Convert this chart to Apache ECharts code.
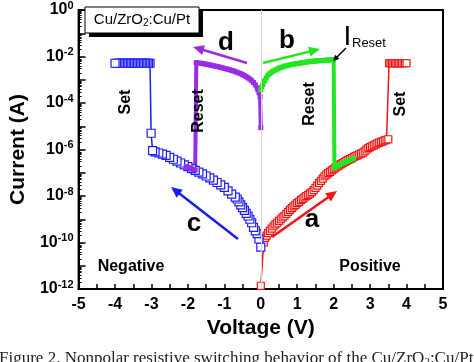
<!DOCTYPE html>
<html><head><meta charset="utf-8">
<script src="https://cdn.jsdelivr.net/npm/echarts@6/dist/echarts.min.js"></script>
<style>html,body{margin:0;padding:0;background:#fff}#c{width:474px;height:362px}</style>
</head><body><div id="c"></div>
<script>
// Tick values
const xTicks = [-5,-4,-3,-2,-1,0,1,2,3,4,5];
const yLabelExponents = [0,-2,-4,-6,-8,-10,-12];
// Sweeps: [voltage (V), log10(current / A)]
// a: positive sweep, HRS -> set (red, open squares)
const sweepA = [[0,-11.86],[0.08,-10.0],[0.12,-9.8],[0.16,-9.7],[0.2,-9.6],[0.25,-9.5],[0.3,-9.4],[0.35,-9.3],[0.4,-9.22],[0.45,-9.15],[0.5,-9.07],[0.55,-9.0],[0.6,-8.92],[0.65,-8.85],[0.7,-8.77],[0.75,-8.68],[0.8,-8.6],[0.85,-8.52],[0.9,-8.45],[0.95,-8.38],[1.0,-8.31],[1.05,-8.25],[1.1,-8.18],[1.15,-8.12],[1.2,-8.06],[1.25,-8.0],[1.3,-7.95],[1.35,-7.9],[1.4,-7.83],[1.45,-7.75],[1.5,-7.65],[1.55,-7.55],[1.6,-7.45],[1.65,-7.35],[1.7,-7.25],[1.75,-7.15],[1.8,-7.08],[1.85,-7.02],[1.9,-6.96],[1.95,-6.9],[2.0,-6.84],[2.05,-6.78],[2.1,-6.73],[2.15,-6.68],[2.2,-6.63],[2.25,-6.58],[2.3,-6.53],[2.35,-6.49],[2.4,-6.45],[2.45,-6.41],[2.5,-6.37],[2.55,-6.33],[2.6,-6.28],[2.65,-6.25],[2.7,-6.21],[2.75,-6.18],[2.8,-6.14],[2.85,-6.08],[2.9,-6.0],[2.95,-5.94],[3.0,-5.9],[3.05,-5.86],[3.1,-5.82],[3.15,-5.78],[3.2,-5.74],[3.25,-5.7],[3.3,-5.67],[3.35,-5.65],[3.4,-5.61],[3.45,-5.58],[3.5,-5.56],[3.52,-2.29],[3.56,-2.29],[3.6,-2.29],[3.64,-2.29],[3.68,-2.29],[3.72,-2.29],[3.76,-2.29],[3.8,-2.29],[3.84,-2.29],[3.88,-2.29],[3.92,-2.29],[3.96,-2.29],[4.0,-2.29]];
// c: negative sweep, HRS -> set (blue, open squares)
const sweepC = [[0,-10.2],[-0.05,-9.85],[-0.1,-9.62],[-0.15,-9.5],[-0.2,-9.35],[-0.25,-9.15],[-0.3,-9.0],[-0.35,-8.86],[-0.4,-8.75],[-0.45,-8.62],[-0.5,-8.5],[-0.55,-8.38],[-0.6,-8.25],[-0.65,-8.13],[-0.7,-8.05],[-0.8,-7.92],[-0.9,-7.78],[-1.0,-7.63],[-1.1,-7.52],[-1.2,-7.42],[-1.3,-7.32],[-1.4,-7.22],[-1.5,-7.14],[-1.6,-7.05],[-1.7,-6.97],[-1.8,-6.9],[-1.9,-6.82],[-2.0,-6.74],[-2.1,-6.66],[-2.2,-6.58],[-2.3,-6.5],[-2.4,-6.42],[-2.5,-6.34],[-2.6,-6.25],[-2.7,-6.2],[-2.8,-6.15],[-2.9,-6.1],[-2.97,-6.05],[-3.01,-5.3],[-3.04,-2.29],[-3.08,-2.29],[-3.12,-2.29],[-3.16,-2.29],[-3.2,-2.29],[-3.24,-2.29],[-3.28,-2.29],[-3.32,-2.29],[-3.36,-2.29],[-3.4,-2.29],[-3.44,-2.29],[-3.48,-2.29],[-3.52,-2.29],[-3.56,-2.29],[-3.6,-2.29],[-3.64,-2.29],[-3.68,-2.29],[-3.72,-2.29],[-3.76,-2.29],[-3.8,-2.29],[-3.84,-2.29],[-3.88,-2.29],[-3.92,-2.29],[-3.96,-2.29],[-4.0,-2.29]];
// d: negative sweep, LRS -> reset (purple, filled squares)
const sweepD = [[0,-5.06],[-0.02,-3.73],[-0.05,-3.55],[-0.08,-3.42],[-0.1,-3.35],[-0.15,-3.22],[-0.2,-3.12],[-0.25,-3.04],[-0.3,-2.97],[-0.35,-2.92],[-0.4,-2.87],[-0.45,-2.82],[-0.5,-2.78],[-0.55,-2.74],[-0.6,-2.71],[-0.65,-2.68],[-0.7,-2.65],[-0.75,-2.62],[-0.8,-2.6],[-0.85,-2.57],[-0.9,-2.55],[-0.95,-2.53],[-1.0,-2.51],[-1.05,-2.49],[-1.1,-2.47],[-1.15,-2.45],[-1.2,-2.43],[-1.25,-2.41],[-1.3,-2.4],[-1.35,-2.38],[-1.4,-2.36],[-1.45,-2.35],[-1.5,-2.33],[-1.55,-2.32],[-1.6,-2.3],[-1.65,-2.29],[-1.7,-2.28],[-1.77,-2.26],[-1.8,-6.88],[-1.85,-6.86],[-1.9,-6.83],[-1.95,-6.8],[-2.0,-6.77],[-2.05,-6.74]];
// b: positive sweep, LRS -> reset (green, filled squares)
const sweepB = [[0,-3.44],[0.03,-3.3],[0.06,-3.2],[0.1,-3.05],[0.15,-2.92],[0.2,-2.8],[0.25,-2.73],[0.3,-2.67],[0.35,-2.62],[0.4,-2.58],[0.45,-2.54],[0.5,-2.5],[0.55,-2.47],[0.6,-2.45],[0.65,-2.42],[0.7,-2.4],[0.75,-2.38],[0.8,-2.36],[0.85,-2.34],[0.9,-2.33],[0.95,-2.31],[1.0,-2.3],[1.05,-2.29],[1.1,-2.28],[1.15,-2.26],[1.2,-2.25],[1.25,-2.24],[1.3,-2.23],[1.35,-2.22],[1.4,-2.21],[1.45,-2.2],[1.5,-2.2],[1.55,-2.19],[1.6,-2.18],[1.65,-2.18],[1.7,-2.17],[1.75,-2.16],[1.8,-2.16],[1.85,-2.15],[1.9,-2.15],[1.95,-2.14],[2.0,-2.13],[2.02,-6.78],[2.06,-6.74],[2.1,-6.71],[2.15,-6.67],[2.2,-6.63],[2.25,-6.59],[2.3,-6.56],[2.35,-6.52],[2.4,-6.49],[2.45,-6.45],[2.5,-6.42],[2.55,-6.38]];

const toCurrent = arr => arr.map(p => [p[0], Math.pow(10, p[1])]);
const decades = []; for (let e = 0; e >= -12; e--) decades.push(Math.pow(10, e));
const minorVals = []; for (let e = -12; e < 0; e++) for (let k = 2; k <= 9; k++) minorVals.push(k * Math.pow(10, e));
const labelVals = yLabelExponents.map(e => Math.pow(10, e));

const FONT = 'Arial, "Liberation Sans", sans-serif';
const RED = '#f01414', BLUE = '#1c1cf5', PURPLE = '#9a2be6', GREEN = '#22e622';

function arrow(x1,y1,x2,y2,color,w,hl,hw){
  const a = Math.atan2(y2-y1, x2-x1);
  const bx = x2 - hl*Math.cos(a), by = y2 - hl*Math.sin(a);
  const px = -Math.sin(a)*hw, py = Math.cos(a)*hw;
  return [
    {type:'line', silent:true, z:100, shape:{x1:x1,y1:y1,x2:bx+Math.cos(a)*2,y2:by+Math.sin(a)*2}, style:{stroke:color,lineWidth:w}},
    {type:'polygon', silent:true, z:100, shape:{points:[[x2,y2],[bx+px,by+py],[bx-px,by-py]]}, style:{fill:color}}
  ];
}
function txt(x,y,t,size,weight,rot){
  return {type:'text', silent:true, z:100, x:x, y:y, rotation:rot||0,
    style:{text:t, fontSize:size, fontWeight:weight, fontFamily:FONT, fill:'#000', align:'center', verticalAlign:'middle', textAlign:'center', textVerticalAlign:'middle'}};
}

const graphics = [].concat(
  [{type:'rect', silent:true, z:100, shape:{x:89,y:11,width:114,height:26}, style:{fill:'#000'}},
   {type:'rect', silent:true, z:101, shape:{x:85,y:7,width:114,height:26}, style:{fill:'#fff', stroke:'#000', lineWidth:1}},
   {type:'text', silent:true, z:102, x:142, y:20, style:{text:'{n|Cu/ZrO}{s|2}{n|:Cu/Pt}', align:'center', verticalAlign:'middle', textAlign:'center', textVerticalAlign:'middle',
     rich:{n:{fontSize:15, fontFamily:FONT, fill:'#000', fontWeight:'normal'}, s:{fontSize:10, fontFamily:FONT, fill:'#000', padding:[7,0,0,0]}}}}],
  arrow(247,63,193,47,PURPLE,2.5,11,5),
  arrow(263,63,320,49,GREEN,2.5,11,5),
  arrow(238,239,171,187,BLUE,2.5,11,5),
  arrow(272,237,337,191,RED,2.5,11,5),
  arrow(346,48,333,61,'#000',1.5,6,3),
  [txt(226,43,'d',26,'bold'), txt(287,41,'b',26,'bold'), txt(194,224,'c',26,'bold'), txt(312,220,'a',26,'bold'),
   txt(126,102,'Set',16,'bold',Math.PI/2), txt(198.5,111,'Reset',16,'bold',Math.PI/2),
   txt(310,104,'Reset',16,'bold',Math.PI/2), txt(400.5,104,'Set',16,'bold',Math.PI/2),
   txt(131,267,'Negative',16,'bold'), txt(370,267,'Positive',16,'bold'),
   txt(347.5,37,'I',28,'normal'),
   {type:'text', silent:true, z:100, x:352, y:43, style:{text:'Reset', fontSize:13, fontWeight:'normal', fontFamily:FONT, fill:'#000', align:'left', verticalAlign:'middle', textAlign:'left', textVerticalAlign:'middle'}},
   {type:'text', silent:true, z:100, x:-1, y:349, style:{text:'{n|Figure 2. Nonpolar resistive switching behavior of the Cu/ZrO}{s|2}{n|:Cu/Pt}', align:'left', verticalAlign:'top', textAlign:'left', textVerticalAlign:'top',
     rich:{n:{fontSize:17, fontFamily:'"Liberation Serif", "DejaVu Serif", serif', fill:'#222'}, s:{fontSize:11, fontFamily:'"Liberation Serif", serif', fill:'#222', padding:[8,0,0,0]}}}}]
);

const chart = echarts.init(document.getElementById('c'), null, {renderer:'canvas'});
function lineSeries(data, color, size, open, lw){
  return {type:'line', data:toCurrent(data), yAxisIndex:0, symbol:'rect', symbolSize:size, showSymbol:true,
    lineStyle:{color:color, width:lw}, itemStyle: open ? {color:'#fff', borderColor:color, borderWidth:1.2} : {color:color, borderColor:color, borderWidth:0},
    emphasis:{disabled:true}, animation:false, clip:false};
}
const sA = lineSeries(sweepA, RED, 7, true, 1.5);
sA.markLine = {silent:true, symbol:'none', label:{show:false}, lineStyle:{color:'#d6d6d6', width:1, type:'solid'}, data:[{xAxis:0}], animation:false};
sA.z = 1;
chart.setOption({
  animation:false,
  backgroundColor:'#fff',
  grid:{left:67, right:31, top:10, bottom:73, show:true, borderColor:'#000', borderWidth:2, backgroundColor:'transparent'},
  xAxis:{type:'value', min:-5, max:5, interval:1,
    name:'Voltage (V)', nameLocation:'middle', nameGap:21, nameTextStyle:{fontSize:21, fontWeight:'bold', fontFamily:FONT, color:'#000', verticalAlign:'top'},
    axisLine:{show:true, onZero:false, lineStyle:{color:'#000', width:2}},
    axisTick:{show:true, inside:true, length:5, lineStyle:{color:'#000', width:1.5}, customValues:xTicks},
    minorTick:{show:true, splitNumber:2, length:5, lineStyle:{color:'#000', width:1.5}},
    axisLabel:{show:true, margin:8, fontSize:16, fontWeight:'bold', fontFamily:FONT, color:'#000', customValues:xTicks, formatter:v=>String(v)},
    splitLine:{show:false}, minorSplitLine:{show:false}},
  yAxis:[
    {type:'log', logBase:10, min:1e-12, max:1, position:'left',
     name:'Current (A)', nameLocation:'middle', nameGap:35, nameRotate:90, nameTextStyle:{fontSize:21, fontWeight:'bold', fontFamily:FONT, color:'#000'},
     axisLine:{show:true, onZero:false, lineStyle:{color:'#000', width:2}},
     axisTick:{show:true, inside:true, length:7, lineStyle:{color:'#000', width:1.5}, customValues:decades},
     axisLabel:{show:true, margin:5, customValues:labelVals, formatter:function(v){const e=Math.round(Math.log10(v)); return '{b|10}{s|'+e+'}';},
       rich:{b:{fontSize:16, fontWeight:'bold', fontFamily:FONT, color:'#000'}, s:{fontSize:11, fontWeight:'bold', fontFamily:FONT, color:'#000', padding:[0,0,9,0]}}},
     splitLine:{show:false}},
    {type:'log', logBase:10, min:1e-12, max:1, position:'left',
     axisLine:{show:false, onZero:false}, axisLabel:{show:false}, splitLine:{show:false},
     axisTick:{show:true, inside:true, length:3, lineStyle:{color:'#000', width:1}, customValues:minorVals}}
  ],
  series:[
    sA,
    lineSeries(sweepC, BLUE, 8, true, 1.5),
    lineSeries(sweepD, PURPLE, 5, false, 4),
    lineSeries(sweepB, GREEN, 5, false, 4)
  ],
  graphic:graphics
});
</script></body></html>
